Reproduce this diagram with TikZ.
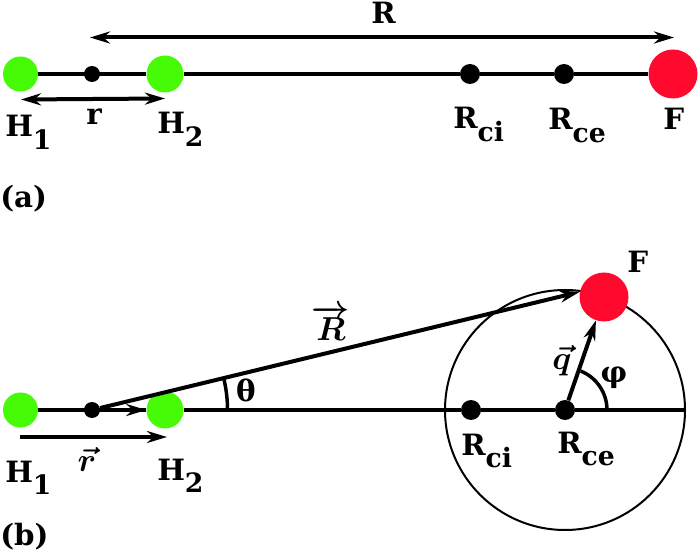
\documentclass[tikz,border=0pt]{standalone}
\usepackage{fontspec}
\setmainfont{DejaVu Serif}
\usetikzlibrary{arrows.meta}
\definecolor{hgreen}{HTML}{47FA06}
\definecolor{fred}{HTML}{FF0A2E}
\newcommand{\lsub}[1]{\raisebox{-0.44em}{\fontsize{20}{21}\selectfont #1}}
\tikzset{
	atom/.style={circle,inner sep=0pt,minimum size=#1},
	hatom/.style={atom=35*0.75pt,fill=hgreen},
	fatom/.style={atom=49*0.75pt,fill=fred},
	cdot/.style={atom=20*0.75pt,fill=black},
	mdot/.style={atom=16*0.75pt,fill=black},
	lab/.style={inner sep=0pt,anchor=base west,font=\fontsize{22}{24}\selectfont\bfseries},
	veclab/.style={inner sep=0pt,font=\fontsize{23}{25}\selectfont\boldmath},
	bond/.style={line width=3pt},
	arr/.style={line width=3pt,-{Stealth[length=15pt,width=9pt]}},
	arrb/.style={line width=3pt,{Stealth[length=15pt,width=9pt]}-{Stealth[length=15pt,width=9pt]}},
}
\begin{document}
\begin{tikzpicture}[x=0.75pt,y=-0.75pt]
\useasboundingbox (0,0) rectangle (700,552);
% panel a
\coordinate (Ra) at (90,37.5);
\coordinate (Rb) at (674,37.5);
\coordinate (ra) at (21,99.5);
\coordinate (rb) at (165,98.5);
\node[hatom] (H1a) at (20.5,74) {};
\node[mdot] (Ma) at (92,74) {};
\node[hatom,minimum size=37*0.75pt] (H2a) at (165,74) {};
\node[cdot] (Cia) at (470,74) {};
\node[cdot] (Cea) at (564,74) {};
\node[fatom] (Fa) at (673,74) {};
\draw[bond] (H1a) -- (H2a);
\draw[bond] (H2a) -- (Cia) -- (Cea) -- (Fa);
\draw[arrb] (Ra) -- (Rb);
\draw[arrb] (ra) -- (rb);
\node[lab] (lR) at (371,24) {R};
\node[lab] (lr) at (86,125) {r};
\node[lab] (lH1a) at (5,137) {H\lsub{1}};
\node[lab] (lH2a) at (157,134) {H\lsub{2}};
\node[lab] (lCia) at (453,129) {R\lsub{ci}};
\node[lab] (lCea) at (548,130) {R\lsub{ce}};
\node[lab] (lFa) at (663,130) {F};
\node[lab] (la) at (0,208) {(a)};
% panel b
\coordinate (rc) at (20,437);
\coordinate (rd) at (167,437);
\coordinate (E) at (686,410);
\node[hatom] (H1b) at (20.5,410) {};
\node[mdot] (Mb) at (92,410) {};
\node[hatom,minimum size=37*0.75pt] (H2b) at (165,410) {};
\node[cdot] (Cib) at (471,410) {};
\node[cdot] (Ceb) at (565,410) {};
\draw[line width=1.5pt] (Ceb) circle (120);
\node[fatom] (Fb) at (604,297) {};
\draw[bond] (H1b) -- (H2b);
\draw[bond] (H2b) -- (Cib) -- (Ceb) -- (E);
\draw[arr] (Mb) -- (Fb.168);
\draw[arr] (Mb) -- (H2b);
\draw[arr] (Ceb) -- (Fb);
\draw[arr] (rc) -- (rd);
\draw[line width=2.6pt] (227.5,410) arc (0:-13.6:135.5);
\draw[line width=2.6pt] (607,410) arc (0:-68:42);
\node[veclab] (lRv) at (331,323) {$\overrightarrow{R}$};
\node[veclab] (lq) at (562,361) {$\vec{q}$};
\node[veclab] (lrv) at (87,459) {$\vec{r}$};
\node[lab,anchor=center] (lth) at (246,390) {θ};
\node[lab,anchor=center] (lph) at (614,378) {φ};
\node[lab] (lH1b) at (5,482) {H\lsub{1}};
\node[lab] (lH2b) at (157,480) {H\lsub{2}};
\node[lab] (lCib) at (461,455) {R\lsub{ci}};
\node[lab] (lCeb) at (557,453) {R\lsub{ce}};
\node[lab] (lFb) at (627,273) {F};
\node[lab] (lb) at (0,545) {(b)};
\end{tikzpicture}
\end{document}
